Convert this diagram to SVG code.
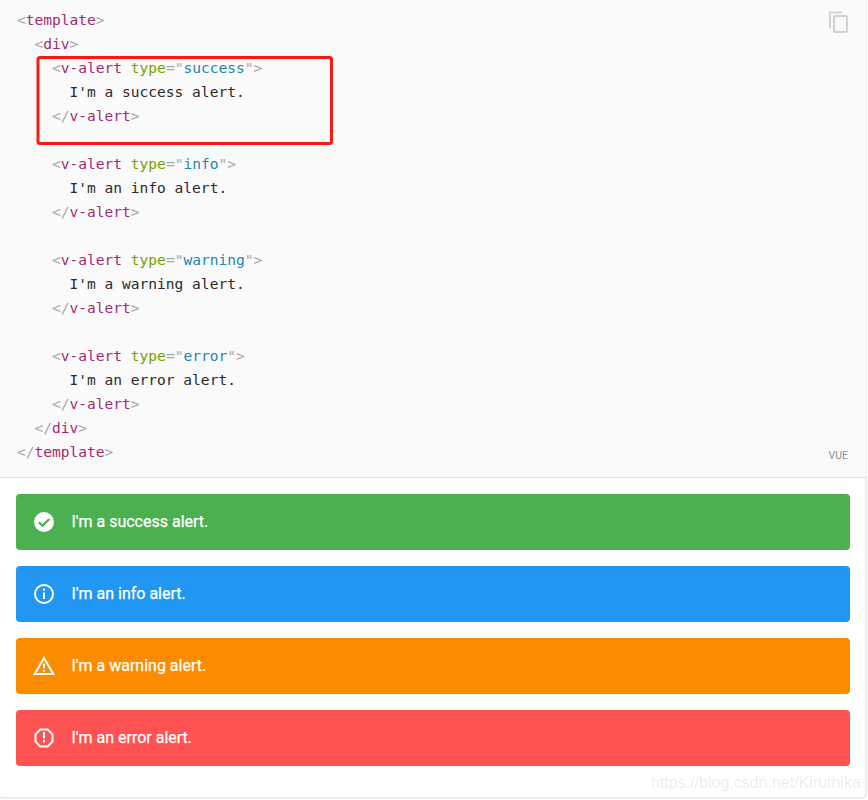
<svg xmlns="http://www.w3.org/2000/svg" width="868" height="800" viewBox="0 0 868 800">
<style>
.c{font-family:"DejaVu Sans Mono","Liberation Mono",monospace;font-size:14.55px;fill:#2a2a2a;white-space:pre}
.p{fill:#a6a6a6}.t{fill:#a32a72}.a{fill:#73a300}.s{fill:#1a86b3}
.m{font-family:Roboto,"Liberation Sans",sans-serif;font-size:16px;fill:#fff;stroke:#fff;stroke-width:.25px}
</style>
<rect width="868" height="800" fill="#fff"/>
<rect x="-1" y="-10" width="867" height="808" rx="4" fill="#fff" stroke="#dcdcdc"/>
<rect x="0" y="0" width="866" height="477" fill="#fafafa"/>
<line x1="0" y1="477.5" x2="866" y2="477.5" stroke="#e0e0e0"/>
<g id="code">
<text class="c" x="17" y="25"><tspan class="p">&lt;</tspan><tspan class="t">template</tspan><tspan class="p">&gt;</tspan></text>
<text class="c" x="34.5" y="49"><tspan class="p">&lt;</tspan><tspan class="t">div</tspan><tspan class="p">&gt;</tspan></text>
<text class="c" x="52" y="73"><tspan class="p">&lt;</tspan><tspan class="t">v-alert</tspan> <tspan class="a">type</tspan><tspan class="p">=</tspan><tspan class="s"><tspan class="p">"</tspan>success<tspan class="p">"</tspan></tspan><tspan class="p">&gt;</tspan></text>
<text class="c" x="69.5" y="97">I'm a success alert.</text>
<text class="c" x="52" y="121"><tspan class="p">&lt;/</tspan><tspan class="t">v-alert</tspan><tspan class="p">&gt;</tspan></text>
<text class="c" x="52" y="169"><tspan class="p">&lt;</tspan><tspan class="t">v-alert</tspan> <tspan class="a">type</tspan><tspan class="p">=</tspan><tspan class="s"><tspan class="p">"</tspan>info<tspan class="p">"</tspan></tspan><tspan class="p">&gt;</tspan></text>
<text class="c" x="69.5" y="193">I'm an info alert.</text>
<text class="c" x="52" y="217"><tspan class="p">&lt;/</tspan><tspan class="t">v-alert</tspan><tspan class="p">&gt;</tspan></text>
<text class="c" x="52" y="265"><tspan class="p">&lt;</tspan><tspan class="t">v-alert</tspan> <tspan class="a">type</tspan><tspan class="p">=</tspan><tspan class="s"><tspan class="p">"</tspan>warning<tspan class="p">"</tspan></tspan><tspan class="p">&gt;</tspan></text>
<text class="c" x="69.5" y="289">I'm a warning alert.</text>
<text class="c" x="52" y="313"><tspan class="p">&lt;/</tspan><tspan class="t">v-alert</tspan><tspan class="p">&gt;</tspan></text>
<text class="c" x="52" y="361"><tspan class="p">&lt;</tspan><tspan class="t">v-alert</tspan> <tspan class="a">type</tspan><tspan class="p">=</tspan><tspan class="s"><tspan class="p">"</tspan>error<tspan class="p">"</tspan></tspan><tspan class="p">&gt;</tspan></text>
<text class="c" x="69.5" y="385">I'm an error alert.</text>
<text class="c" x="52" y="409"><tspan class="p">&lt;/</tspan><tspan class="t">v-alert</tspan><tspan class="p">&gt;</tspan></text>
<text class="c" x="34.5" y="433"><tspan class="p">&lt;/</tspan><tspan class="t">div</tspan><tspan class="p">&gt;</tspan></text>
<text class="c" x="17" y="457"><tspan class="p">&lt;/</tspan><tspan class="t">template</tspan><tspan class="p">&gt;</tspan></text>
</g>
<g id="copy-icon" fill="none" stroke="#d2d2d2" stroke-width="2">
<path d="M830 28V12.500H842"/>
<rect x="834" y="16" width="13" height="16" rx="1"/>
</g>
<text id="lang" x="828.500" y="459" font-family="Roboto,'Liberation Sans',sans-serif" font-size="10.500" fill="#8e8e8e">VUE</text>
<rect id="highlight" x="38" y="57.500" width="293.500" height="86" rx="2" fill="none" stroke="#fb1a10" stroke-width="3"/>
<g id="alert-success">
<rect x="16" y="494" width="834" height="56" rx="4" fill="#4caf50"/>
<circle cx="44" cy="522" r="10" fill="#fff"/>
<path d="M38.800 522.200L42.500 525.800L49.300 519" fill="none" stroke="#4caf50" stroke-width="2.200"/>
<text class="m" x="71.500" y="527">I'm a success alert.</text>
</g>
<g id="alert-info">
<rect x="16" y="566" width="834" height="56" rx="4" fill="#2196f3"/>
<circle cx="44" cy="594" r="9" fill="none" stroke="#fff" stroke-width="2"/>
<path d="M43 588.500h2v2.200h-2zM43 592.500h2v6.500h-2z" fill="#fff"/>
<text class="m" x="71.500" y="599">I'm an info alert.</text>
</g>
<g id="alert-warning">
<rect x="16" y="638" width="834" height="56" rx="4" fill="#fb8c00"/>
<path d="M44 658L53.300 674H34.700Z" fill="none" stroke="#fff" stroke-width="2"/>
<path d="M43 663.500h2v5h-2zM43 670h2v2h-2z" fill="#fff"/>
<text class="m" x="71.500" y="671">I'm a warning alert.</text>
</g>
<g id="alert-error">
<rect x="16" y="710" width="834" height="56" rx="4" fill="#ff5252"/>
<path d="M40.300 729.500H47.700L52.500 734.300V741.700L47.700 746.500H40.300L35.500 741.700V734.300Z" fill="none" stroke="#fff" stroke-width="2"/>
<path d="M43 732h2v6.500h-2zM43 740h2v2.200h-2z" fill="#fff"/>
<text class="m" x="71.500" y="743">I'm an error alert.</text>
</g>
<text id="watermark" x="651" y="788" font-family="'Liberation Sans',Arial,sans-serif" font-size="16" fill="#000" fill-opacity="0.09">https://blog.csdn.net/Kiruthika</text>
</svg>
